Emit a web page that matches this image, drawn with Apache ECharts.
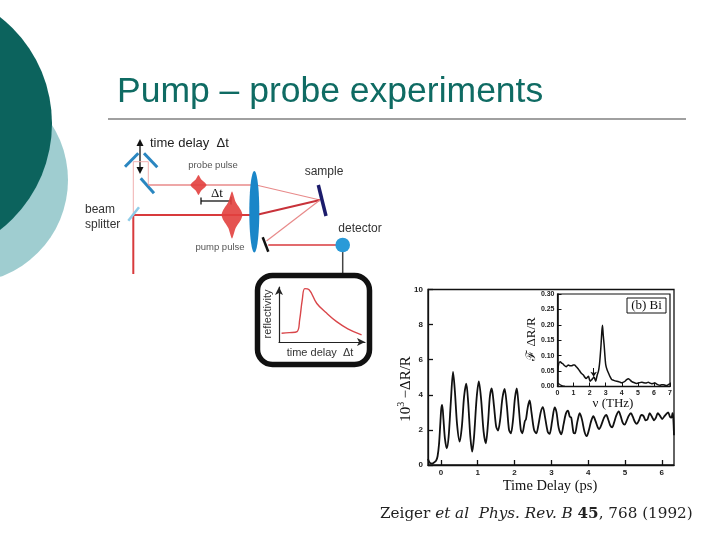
<!DOCTYPE html>
<html>
<head>
<meta charset="utf-8">
<script src="https://cdn.jsdelivr.net/npm/echarts@6/dist/echarts.min.js"></script>
<style>html,body{margin:0;padding:0;background:#fff;}#c{width:720px;height:540px;}</style>
</head>
<body>
<div id="c"></div>
<script>
// ---- Main panel: reflectivity change vs time delay (Bi) ----
var timeDelay = [-0.35,-0.3,-0.24,-0.18,-0.13,-0.09,-0.05,-0.02,0.01,0.035,0.07,0.11,0.16,0.21,0.27,0.33,0.38,0.44,0.51,0.57,0.63,0.69,0.74,0.8,0.85,0.9,0.97,1.03,1.09,1.16,1.22,1.28,1.33,1.38,1.44,1.5,1.55,1.61,1.67,1.73,1.79,1.85,1.9,1.96,2.01,2.06,2.11,2.17,2.21,2.28,2.31,2.36,2.41,2.46,2.53,2.59,2.65,2.71,2.77,2.83,2.9,2.95,3.02,3.09,3.14,3.2,3.27,3.33,3.39,3.45,3.5,3.54,3.6,3.64,3.7,3.77,3.83,3.9,3.96,4.02,4.08,4.14,4.2,4.26,4.3,4.36,4.43,4.49,4.55,4.6,4.65,4.7,4.76,4.83,4.88,4.94,4.99,5.04,5.1,5.16,5.21,5.27,5.32,5.38,5.44,5.5,5.56,5.61,5.67,5.73,5.79,5.84,5.89,5.95,6.01,6.06,6.12,6.17,6.22,6.26,6.29,6.31,6.33];
var dRR = [0.34,0.12,0.08,0.15,0.25,0.5,1.2,2.2,3.2,3.43,2.6,1.5,0.95,1.6,3.6,5.3,4.2,2.3,1.33,2.2,3.9,4.63,3.6,1.6,0.76,1.6,3.8,4.76,3.8,1.9,1.24,2.4,3.9,4.36,3.4,2.2,1.96,2.6,3.8,4.34,3.4,2.0,1.81,2.6,3.8,4.36,3.4,2.0,1.81,2.5,2.6,3.3,3.68,3.0,2.0,1.8,2.3,3.0,3.3,2.7,1.9,1.77,2.5,3.28,3.0,2.1,1.75,2.3,2.9,3.1,2.75,2.7,1.85,1.8,2.4,2.95,2.6,1.9,1.65,2.0,2.5,2.78,2.5,2.15,2.05,2.3,2.7,2.85,2.55,2.25,2.15,2.4,2.8,3.05,2.8,2.4,2.3,2.5,2.8,2.95,2.75,2.45,2.35,2.55,2.85,2.8,2.55,2.6,2.95,2.75,2.55,2.7,2.95,2.8,2.62,2.75,2.9,3.0,2.75,2.7,2.95,2.7,1.7];
var timeTicks = [0,1,2,3,4,5,6];

// ---- Inset: Fourier transform amplitude vs frequency ----
var freq = [0.02,0.08,0.17,0.26,0.33,0.43,0.54,0.62,0.68,0.78,0.89,0.97,1.06,1.15,1.24,1.33,1.41,1.5,1.61,1.7,1.78,1.86,1.93,1.98,2.03,2.08,2.13,2.2,2.28,2.34,2.38,2.43,2.48,2.55,2.61,2.66,2.71,2.76,2.8,2.84,2.9,2.95,3.0,3.08,3.17,3.27,3.37,3.5,3.69,3.85,4.0,4.1,4.2,4.3,4.41,4.5,4.6,4.75,4.93,5.08,5.24,5.37,5.5,5.65,5.76,5.86,5.96,6.07,6.2,6.38,6.48,6.58,6.7,6.8,6.9,7.0];
var ftAmp = [0.05,0.075,0.08,0.076,0.074,0.068,0.064,0.068,0.07,0.067,0.067,0.07,0.07,0.065,0.06,0.054,0.048,0.042,0.037,0.03,0.026,0.03,0.033,0.024,0.017,0.02,0.022,0.027,0.03,0.022,0.017,0.028,0.039,0.05,0.071,0.1,0.136,0.18,0.199,0.17,0.136,0.1,0.071,0.055,0.044,0.032,0.023,0.02,0.017,0.015,0.012,0.014,0.017,0.022,0.025,0.022,0.017,0.013,0.01,0.012,0.014,0.012,0.011,0.014,0.011,0.009,0.01,0.011,0.007,0.004,0.006,0.006,0.004,0.003,0.006,0.009];
var freqLow = [0.0,0.1,0.2,0.3,0.45];
var ftLow = [0.012,0.008,0.005,0.002,0.001];
var arrowFreq = 2.25, arrowFrom = 0.06, arrowTo = 0.032;

// ---- Schematic detector trace (monitor) ----
var tNorm = [0.03,0.12,0.21,0.24,0.27,0.30,0.35,0.44,0.55,0.67,0.80,0.96];
var reflNorm = [0.16,0.17,0.19,0.4,0.76,0.97,0.95,0.70,0.53,0.37,0.24,0.13];

function zip(a,b){return a.map(function(v,i){return [v,b[i]];});}

var RED='#d83a3c', PINK='#e88a8a', BLUE='#2a86c0';
function ln(x1,y1,x2,y2,c,w){return {type:'line',shape:{x1:x1,y1:y1,x2:x2,y2:y2},style:{stroke:c,lineWidth:w},z:5};}
function tx(x,y,t,font,fill,align,rot){return {type:'text',x:x,y:y,rotation:rot||0,style:{text:t,font:font,fill:fill||'#333',align:align||'left',verticalAlign:'middle'},z:6};}
function pulse(cx,cy,hw,hh){
  var p=[[cx,cy-hh],[cx+hw*0.35,cy-hh*0.55],[cx+hw*0.85,cy-hh*0.2],[cx+hw,cy],[cx+hw*0.85,cy+hh*0.2],[cx+hw*0.35,cy+hh*0.55],
         [cx,cy+hh],[cx-hw*0.35,cy+hh*0.55],[cx-hw*0.85,cy+hh*0.2],[cx-hw,cy],[cx-hw*0.85,cy-hh*0.2],[cx-hw*0.35,cy-hh*0.55]];
  return {type:'polygon',shape:{points:p,smooth:0.2},style:{fill:'#e2403e',opacity:0.9},z:6};
}

var SANS='Liberation Sans, Arial, sans-serif';
var SERIF='Liberation Serif, DejaVu Serif, serif';
var CITE='DejaVu Serif, serif';

var graphics = [
  // slide decoration
  {type:'circle',shape:{cx:-35,cy:180,r:103},style:{fill:'#9fcdd0'},z:1},
  {type:'circle',shape:{cx:-83,cy:123.5,r:135},style:{fill:'#0c635d'},z:1},
  tx(117,92,'Pump \u2013 probe experiments','35.5px '+SANS,'#0f6b63'),
  ln(108,119,686,119,'#808080',1.5),
  // diagram
  tx(150,143,'time delay  \u0394t','13px '+SANS,'#222'),
  {type:'line',shape:{x1:140,y1:144,x2:140,y2:170},style:{stroke:'#111',lineWidth:1.3},z:5},
  {type:'polygon',shape:{points:[[140,139],[136.5,146],[143.5,146]]},style:{fill:'#111'},z:5},
  {type:'polygon',shape:{points:[[140,174],[136.5,167],[143.5,167]]},style:{fill:'#111'},z:5},
  ln(125,166.7,138.3,153.3,BLUE,3),
  ln(144,153.3,157.3,167.3,BLUE,3),
  ln(140.7,178.3,154,193.3,BLUE,3),
  // thin beam paths in delay line
  ln(133.3,161.7,133.3,215,'#f0b0b0',1),
  ln(133.3,161.7,148.3,161.7,'#f0b0b0',1),
  ln(148.3,161.7,148.3,185,'#f0b0b0',1),
  ln(148.3,185,252,185,PINK,1.4),
  // pump beam
  ln(133.3,215,252,215,RED,2),
  ln(133.3,215,133.3,274,RED,2),
  ln(128.3,220.7,139,207.3,'#8ecbe8',2.5),
  tx(85,210,'beam','12px '+SANS,'#333'),
  tx(85,225,'splitter','12px '+SANS,'#333'),
  pulse(198.5,185,8,10),
  pulse(232,215,10.5,23.5),
  tx(213,165,'probe pulse','9.5px '+SANS,'#555','center'),
  tx(220,247,'pump pulse','9.5px '+SANS,'#555','center'),
  ln(201,201,231,201,'#111',1.3),
  ln(201,197.5,201,204.5,'#111',1.3),
  ln(231,197,231,204.5,'#111',1.3),
  tx(217,194,'\u0394t','13px '+SERIF,'#111','center'),
  // lens
  {type:'ellipse',shape:{cx:254.3,cy:211.7,rx:5,ry:40.8},style:{fill:'#1a86c8'},z:6},
  ln(256,185,320,200,PINK,1.2),
  ln(256,215,320,200,'#c8323a',2),
  ln(320,200,266.5,241,PINK,1.2),
  ln(318.3,185,326,216,'#1b1b6b',3.5),
  tx(324,172,'sample','12px '+SANS,'#333','center'),
  ln(262.7,237.3,268.3,251.7,'#111',2.5),
  ln(268.3,245,341,245,RED,1.5),
  ln(342.7,252,342.7,274,'#444',1.5),
  {type:'circle',shape:{cx:342.7,cy:245,r:7.3},style:{fill:'#2a9ad8'},z:6},
  tx(360,228.5,'detector','12px '+SANS,'#333','center'),
  // monitor
  {type:'rect',shape:{x:257.5,y:275.5,width:112,height:89,r:15},style:{fill:'none',stroke:'#111',lineWidth:5.5},z:5},
  tx(268,314,'reflectivity','11px '+SANS,'#333','center',Math.PI/2),
  tx(320,353,'time delay  \u0394t','11px '+SANS,'#333','center'),
  // main chart texts
  {type:'text',x:406,y:389,rotation:Math.PI/2,style:{text:'{n|10}{s|3} {n|\u2212\u0394R/R}',align:'center',verticalAlign:'middle',
     rich:{n:{font:'15px '+SERIF,fill:'#111'},s:{font:'10px '+SERIF,fill:'#111',verticalAlign:'top',padding:[0,0,9,0]}}},z:6},
  tx(550,486,'Time Delay (ps)','14.5px '+SERIF,'#111','center'),
  tx(613,404,'\u03bd (THz)','13px '+SERIF,'#111','center'),
  tx(532,339,'\u2131 \u0394R/R','13px '+SERIF,'#111','center',Math.PI/2),
  {type:'rect',shape:{x:627,y:298,width:39,height:15},style:{fill:'#fff',stroke:'#111',lineWidth:1},z:6},
  tx(646.5,305.5,'(b) Bi','13px '+SERIF,'#111','center'),
  // citation
  {type:'text',x:380,y:514,style:{text:'{n|Zeiger }{i|et al}{n|  }{i|Phys. Rev. B }{b|45}{n|, 768 (1992)}',verticalAlign:'middle',
     rich:{n:{font:'15.2px '+CITE,fill:'#222'},i:{font:'italic 15.2px '+CITE,fill:'#222'},b:{font:'bold 15.2px '+CITE,fill:'#222'}}},z:6}
];

var tickFont = {fontFamily:SANS,fontWeight:'bold',color:'#222'};

var option = {
  backgroundColor:'#fff',
  animation:false,
  grid:[
    {left:428,top:289.5,right:46,bottom:75,show:true,borderColor:'#111',borderWidth:1.3,backgroundColor:'transparent'},
    {left:557.5,top:294,right:50,bottom:153.5,show:true,borderColor:'#111',borderWidth:1.2,backgroundColor:'#fff'},
    {left:279,top:287,right:355,bottom:198,show:false}
  ],
  xAxis:[
    {gridIndex:0,type:'value',min:-0.35,max:6.33,
     axisLine:{onZero:false,lineStyle:{color:'#111',width:1.3}},
     axisTick:{inside:true,length:5,customValues:timeTicks,lineStyle:{color:'#111',width:1.3}},
     axisLabel:{customValues:timeTicks,fontSize:8,margin:4,...tickFont},splitLine:{show:false}},
    {gridIndex:1,type:'value',min:0,max:7,interval:1,
     axisLine:{onZero:false,lineStyle:{color:'#111',width:1.3}},
     axisTick:{inside:true,length:4,lineStyle:{color:'#111'}},
     axisLabel:{fontSize:7,margin:3,...tickFont},splitLine:{show:false}},
    {gridIndex:2,type:'value',min:0,max:1,
     axisLine:{symbol:['none','arrow'],symbolSize:[6,8],lineStyle:{color:'#222',width:1.2}},
     axisTick:{show:false},axisLabel:{show:false},splitLine:{show:false}}
  ],
  yAxis:[
    {gridIndex:0,type:'value',min:0,max:10,interval:2,
     axisLine:{onZero:false,lineStyle:{color:'#111',width:1.3}},
     axisTick:{inside:true,length:5,lineStyle:{color:'#111',width:1.3}},
     axisLabel:{fontSize:8,margin:5,...tickFont},splitLine:{show:false}},
    {gridIndex:1,type:'value',min:0,max:0.3,interval:0.05,
     axisLine:{onZero:false,lineStyle:{color:'#111',width:1.6}},
     axisTick:{inside:true,length:4,lineStyle:{color:'#111'}},
     axisLabel:{fontSize:7,margin:3,formatter:function(v){return v.toFixed(2);},...tickFont},splitLine:{show:false}},
    {gridIndex:2,type:'value',min:0,max:1,
     axisLine:{symbol:['none','arrow'],symbolSize:[6,8],lineStyle:{color:'#222',width:1.2}},
     axisTick:{show:false},axisLabel:{show:false},splitLine:{show:false}}
  ],
  series:[
    {type:'line',xAxisIndex:0,yAxisIndex:0,data:zip(timeDelay,dRR),showSymbol:false,smooth:0.3,
     lineStyle:{color:'#111',width:1.8},z:3},
    {type:'line',xAxisIndex:1,yAxisIndex:1,data:zip(freq,ftAmp),showSymbol:false,smooth:0.2,
     lineStyle:{color:'#111',width:1.5},z:3,
     markLine:{silent:true,symbol:['none','arrow'],symbolSize:5,label:{show:false},lineStyle:{color:'#111',width:1,type:'solid'},
       data:[[{coord:[arrowFreq,arrowFrom]},{coord:[arrowFreq,arrowTo]}]]}},
    {type:'line',xAxisIndex:1,yAxisIndex:1,data:zip(freqLow,ftLow),showSymbol:false,smooth:0.3,
     lineStyle:{color:'#111',width:1.2},z:3},
    {type:'line',xAxisIndex:2,yAxisIndex:2,data:zip(tNorm,reflNorm),showSymbol:false,smooth:0.4,
     lineStyle:{color:'#d9464a',width:1.4},z:3}
  ],
  graphic:graphics
};
var chart = echarts.init(document.getElementById('c'));
chart.setOption(option);
</script>
</body>
</html>
